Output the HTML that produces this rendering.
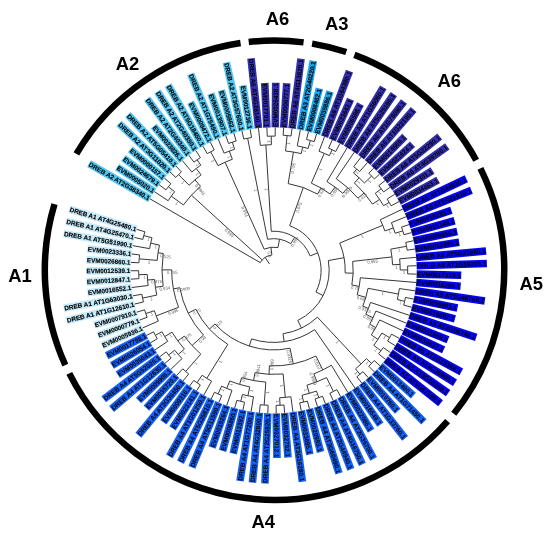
<!DOCTYPE html><html><head><meta charset="utf-8"><style>html,body{margin:0;padding:0;background:#fff;}svg{display:block}.b{stroke:#000;stroke-width:.12px}</style></head><body>
<svg width="550" height="536" viewBox="0 0 550 536">
<rect width="550" height="536" fill="#fff"/>
<path d="M76.38,153.96A229.7,229.7 0 0 1 240.55,43.02" fill="none" stroke="#000" stroke-width="6.5"/>
<path d="M248.70,41.95A229.7,229.7 0 0 1 303.57,42.35" fill="none" stroke="#000" stroke-width="6.5"/>
<path d="M312.10,43.60A229.7,229.7 0 0 1 346.24,51.99" fill="none" stroke="#000" stroke-width="6.5"/>
<path d="M354.38,54.84A229.7,229.7 0 0 1 476.17,160.24" fill="none" stroke="#000" stroke-width="6.5"/>
<path d="M480.42,168.43A229.7,229.7 0 0 1 453.76,413.82" fill="none" stroke="#000" stroke-width="6.5"/>
<path d="M447.59,421.20A229.7,229.7 0 0 1 69.29,373.41" fill="none" stroke="#000" stroke-width="6.5"/>
<path d="M65.32,365.09A229.7,229.7 0 0 1 54.49,204.19" fill="none" stroke="#000" stroke-width="6.5"/>
<g font-family="Liberation Sans, Arial, sans-serif" font-weight="bold" font-size="18.4" fill="#000">
<text x="265.7" y="24.8">A6</text>
<text x="325.0" y="30.0">A3</text>
<text x="115.7" y="69.7">A2</text>
<text x="437.4" y="86.5">A6</text>
<text x="519.5" y="290.2">A5</text>
<text x="8.3" y="281.6">A1</text>
<text x="251.5" y="527.6">A4</text>
</g>
<g font-family="Liberation Sans, Arial, sans-serif" font-weight="bold" font-size="6.3" fill="#000">
<g transform="translate(273.7,270.4) rotate(390.050)"><rect x="-213.30" y="-3.8" width="70.30" height="7.6" fill="#52c5f2"/><text class="b" x="-212.80" y="2.3" textLength="69.30" lengthAdjust="spacingAndGlyphs">DREB A2 AT2G38340.1</text></g>
<g transform="translate(273.7,270.4) rotate(393.415)"><rect x="-187.60" y="-3.8" width="44.60" height="7.6" fill="#52c5f2"/><text class="b" x="-187.10" y="2.3" textLength="43.60" lengthAdjust="spacingAndGlyphs">EVM0005020.1</text></g>
<g transform="translate(273.7,270.4) rotate(396.781)"><rect x="-187.60" y="-3.8" width="44.60" height="7.6" fill="#52c5f2"/><text class="b" x="-187.10" y="2.3" textLength="43.60" lengthAdjust="spacingAndGlyphs">EVM0024679.1</text></g>
<g transform="translate(273.7,270.4) rotate(400.146)"><rect x="-187.60" y="-3.8" width="44.60" height="7.6" fill="#52c5f2"/><text class="b" x="-187.10" y="2.3" textLength="43.60" lengthAdjust="spacingAndGlyphs">EVM0000157.1</text></g>
<g transform="translate(273.7,270.4) rotate(403.512)"><rect x="-213.30" y="-3.8" width="70.30" height="7.6" fill="#52c5f2"/><text class="b" x="-212.80" y="2.3" textLength="69.30" lengthAdjust="spacingAndGlyphs">DREB A2 AT3G11020.1</text></g>
<g transform="translate(273.7,270.4) rotate(406.877)"><rect x="-213.30" y="-3.8" width="70.30" height="7.6" fill="#52c5f2"/><text class="b" x="-212.80" y="2.3" textLength="69.30" lengthAdjust="spacingAndGlyphs">DREB A2 AT5G05410.1</text></g>
<g transform="translate(273.7,270.4) rotate(410.242)"><rect x="-187.60" y="-3.8" width="44.60" height="7.6" fill="#52c5f2"/><text class="b" x="-187.10" y="2.3" textLength="43.60" lengthAdjust="spacingAndGlyphs">EVM0023826.1</text></g>
<g transform="translate(273.7,270.4) rotate(413.608)"><rect x="-213.30" y="-3.8" width="70.30" height="7.6" fill="#52c5f2"/><text class="b" x="-212.80" y="2.3" textLength="69.30" lengthAdjust="spacingAndGlyphs">DREB A2 AT2G40340.1</text></g>
<g transform="translate(273.7,270.4) rotate(416.973)"><rect x="-213.30" y="-3.8" width="70.30" height="7.6" fill="#52c5f2"/><text class="b" x="-212.80" y="2.3" textLength="69.30" lengthAdjust="spacingAndGlyphs">DREB A2 AT2G40350.1</text></g>
<g transform="translate(273.7,270.4) rotate(420.338)"><rect x="-213.30" y="-3.8" width="70.30" height="7.6" fill="#52c5f2"/><text class="b" x="-212.80" y="2.3" textLength="69.30" lengthAdjust="spacingAndGlyphs">DREB A2 AT5G18450.1</text></g>
<g transform="translate(273.7,270.4) rotate(423.704)"><rect x="-187.60" y="-3.8" width="44.60" height="7.6" fill="#52c5f2"/><text class="b" x="-187.10" y="2.3" textLength="43.60" lengthAdjust="spacingAndGlyphs">EVM0009472.1</text></g>
<g transform="translate(273.7,270.4) rotate(427.069)"><rect x="-213.30" y="-3.8" width="70.30" height="7.6" fill="#52c5f2"/><text class="b" x="-212.80" y="2.3" textLength="69.30" lengthAdjust="spacingAndGlyphs">DREB A2 AT1G75490.1</text></g>
<g transform="translate(273.7,270.4) rotate(430.435)"><rect x="-187.60" y="-3.8" width="44.60" height="7.6" fill="#52c5f2"/><text class="b" x="-187.10" y="2.3" textLength="43.60" lengthAdjust="spacingAndGlyphs">EVM0013907.1</text></g>
<g transform="translate(273.7,270.4) rotate(433.800)"><rect x="-187.60" y="-3.8" width="44.60" height="7.6" fill="#52c5f2"/><text class="b" x="-187.10" y="2.3" textLength="43.60" lengthAdjust="spacingAndGlyphs">EVM0005962.1</text></g>
<g transform="translate(273.7,270.4) rotate(437.165)"><rect x="-213.30" y="-3.8" width="70.30" height="7.6" fill="#52c5f2"/><text class="b" x="-212.80" y="2.3" textLength="69.30" lengthAdjust="spacingAndGlyphs">DREB A2 AT3G57600.1</text></g>
<g transform="translate(273.7,270.4) rotate(440.531)"><rect x="-187.60" y="-3.8" width="44.60" height="7.6" fill="#52c5f2"/><text class="b" x="-187.10" y="2.3" textLength="43.60" lengthAdjust="spacingAndGlyphs">EVM0012736.1</text></g>
<g transform="translate(273.7,270.4) rotate(443.896)"><rect x="-213.30" y="-3.8" width="70.30" height="7.6" fill="#3330b0"/><text x="-212.80" y="2.3" textLength="69.30" lengthAdjust="spacingAndGlyphs">DREB A6 AT4G28140.1</text></g>
<g transform="translate(273.7,270.4) rotate(447.262)"><rect x="-187.60" y="-3.8" width="44.60" height="7.6" fill="#3330b0"/><text x="-187.10" y="2.3" textLength="43.60" lengthAdjust="spacingAndGlyphs">EVM0017791.1</text></g>
<g transform="translate(273.7,270.4) rotate(270.627)"><rect x="143.0" y="-3.8" width="44.60" height="7.6" fill="#3330b0"/><text x="143.50" y="2.3" textLength="43.60" lengthAdjust="spacingAndGlyphs">EVM0026438.1</text></g>
<g transform="translate(273.7,270.4) rotate(273.992)"><rect x="143.0" y="-3.8" width="44.60" height="7.6" fill="#3330b0"/><text x="143.50" y="2.3" textLength="43.60" lengthAdjust="spacingAndGlyphs">EVM0006777.1</text></g>
<g transform="translate(273.7,270.4) rotate(277.358)"><rect x="143.0" y="-3.8" width="70.30" height="7.6" fill="#3330b0"/><text x="143.50" y="2.3" textLength="69.30" lengthAdjust="spacingAndGlyphs">DREB A6 AT4G13620.1</text></g>
<g transform="translate(273.7,270.4) rotate(280.723)"><rect x="143.0" y="-3.8" width="70.30" height="7.6" fill="#19a6f2"/><text class="b" x="143.50" y="2.3" textLength="69.30" lengthAdjust="spacingAndGlyphs">DREB A3 AT2G40220.1</text></g>
<g transform="translate(273.7,270.4) rotate(284.088)"><rect x="143.0" y="-3.8" width="44.60" height="7.6" fill="#19a6f2"/><text class="b" x="143.50" y="2.3" textLength="43.60" lengthAdjust="spacingAndGlyphs">EVM0008462.1</text></g>
<g transform="translate(273.7,270.4) rotate(287.454)"><rect x="143.0" y="-3.8" width="44.60" height="7.6" fill="#19a6f2"/><text class="b" x="143.50" y="2.3" textLength="43.60" lengthAdjust="spacingAndGlyphs">EVM0035886.1</text></g>
<g transform="translate(273.7,270.4) rotate(290.819)"><rect x="143.0" y="-3.8" width="70.30" height="7.6" fill="#3330b0"/><text x="143.50" y="2.3" textLength="69.30" lengthAdjust="spacingAndGlyphs">DREB A6 AT1G64380.1</text></g>
<g transform="translate(273.7,270.4) rotate(294.185)"><rect x="143.0" y="-3.8" width="44.60" height="7.6" fill="#3330b0"/><text x="143.50" y="2.3" textLength="43.60" lengthAdjust="spacingAndGlyphs">EVM0023643.1</text></g>
<g transform="translate(273.7,270.4) rotate(297.550)"><rect x="143.0" y="-3.8" width="44.60" height="7.6" fill="#3330b0"/><text x="143.50" y="2.3" textLength="43.60" lengthAdjust="spacingAndGlyphs">EVM0006598.1</text></g>
<g transform="translate(273.7,270.4) rotate(300.915)"><rect x="143.0" y="-3.8" width="70.30" height="7.6" fill="#3330b0"/><text x="143.50" y="2.3" textLength="69.30" lengthAdjust="spacingAndGlyphs">DREB A6 AT1G36060.1</text></g>
<g transform="translate(273.7,270.4) rotate(304.281)"><rect x="143.0" y="-3.8" width="70.30" height="7.6" fill="#3330b0"/><text x="143.50" y="2.3" textLength="69.30" lengthAdjust="spacingAndGlyphs">DREB A6 AT5G25190.1</text></g>
<g transform="translate(273.7,270.4) rotate(307.646)"><rect x="143.0" y="-3.8" width="70.30" height="7.6" fill="#3330b0"/><text x="143.50" y="2.3" textLength="69.30" lengthAdjust="spacingAndGlyphs">DREB A6 AT1G78080.1</text></g>
<g transform="translate(273.7,270.4) rotate(311.012)"><rect x="143.0" y="-3.8" width="70.30" height="7.6" fill="#3330b0"/><text x="143.50" y="2.3" textLength="69.30" lengthAdjust="spacingAndGlyphs">DREB A6 AT1G22190.1</text></g>
<g transform="translate(273.7,270.4) rotate(314.377)"><rect x="143.0" y="-3.8" width="44.60" height="7.6" fill="#3330b0"/><text x="143.50" y="2.3" textLength="43.60" lengthAdjust="spacingAndGlyphs">EVM0014569.1</text></g>
<g transform="translate(273.7,270.4) rotate(317.742)"><rect x="143.0" y="-3.8" width="44.60" height="7.6" fill="#3330b0"/><text x="143.50" y="2.3" textLength="43.60" lengthAdjust="spacingAndGlyphs">EVM0021624.1</text></g>
<g transform="translate(273.7,270.4) rotate(321.108)"><rect x="143.0" y="-3.8" width="70.30" height="7.6" fill="#3330b0"/><text x="143.50" y="2.3" textLength="69.30" lengthAdjust="spacingAndGlyphs">DREB A6 AT5G22290.1</text></g>
<g transform="translate(273.7,270.4) rotate(324.473)"><rect x="143.0" y="-3.8" width="70.30" height="7.6" fill="#3330b0"/><text x="143.50" y="2.3" textLength="69.30" lengthAdjust="spacingAndGlyphs">DREB A6 AT4G39780.1</text></g>
<g transform="translate(273.7,270.4) rotate(327.838)"><rect x="143.0" y="-3.8" width="44.60" height="7.6" fill="#3330b0"/><text x="143.50" y="2.3" textLength="43.60" lengthAdjust="spacingAndGlyphs">EVM0029301.1</text></g>
<g transform="translate(273.7,270.4) rotate(331.204)"><rect x="143.0" y="-3.8" width="44.60" height="7.6" fill="#3330b0"/><text x="143.50" y="2.3" textLength="43.60" lengthAdjust="spacingAndGlyphs">EVM0034463.1</text></g>
<g transform="translate(273.7,270.4) rotate(334.569)"><rect x="143.0" y="-3.8" width="70.30" height="7.6" fill="#0505f2"/><text x="143.50" y="2.3" textLength="69.30" lengthAdjust="spacingAndGlyphs">DREB A5 AT1G44830.1</text></g>
<g transform="translate(273.7,270.4) rotate(337.935)"><rect x="143.0" y="-3.8" width="70.30" height="7.6" fill="#0505f2"/><text x="143.50" y="2.3" textLength="69.30" lengthAdjust="spacingAndGlyphs">DREB A5 AT1G21910.1</text></g>
<g transform="translate(273.7,270.4) rotate(341.300)"><rect x="143.0" y="-3.8" width="44.60" height="7.6" fill="#0505f2"/><text x="143.50" y="2.3" textLength="43.60" lengthAdjust="spacingAndGlyphs">EVM0010283.1</text></g>
<g transform="translate(273.7,270.4) rotate(344.665)"><rect x="143.0" y="-3.8" width="44.60" height="7.6" fill="#0505f2"/><text x="143.50" y="2.3" textLength="43.60" lengthAdjust="spacingAndGlyphs">EVM0015149.1</text></g>
<g transform="translate(273.7,270.4) rotate(348.031)"><rect x="143.0" y="-3.8" width="44.60" height="7.6" fill="#0505f2"/><text x="143.50" y="2.3" textLength="43.60" lengthAdjust="spacingAndGlyphs">EVM0009956.1</text></g>
<g transform="translate(273.7,270.4) rotate(351.396)"><rect x="143.0" y="-3.8" width="44.60" height="7.6" fill="#0505f2"/><text x="143.50" y="2.3" textLength="43.60" lengthAdjust="spacingAndGlyphs">EVM0012385.1</text></g>
<g transform="translate(273.7,270.4) rotate(354.762)"><rect x="143.0" y="-3.8" width="70.30" height="7.6" fill="#0505f2"/><text x="143.50" y="2.3" textLength="69.30" lengthAdjust="spacingAndGlyphs">DREB A5 AT5G21960.1</text></g>
<g transform="translate(273.7,270.4) rotate(358.127)"><rect x="143.0" y="-3.8" width="70.30" height="7.6" fill="#0505f2"/><text x="143.50" y="2.3" textLength="69.30" lengthAdjust="spacingAndGlyphs">DREB A5 AT1G19210.1</text></g>
<g transform="translate(273.7,270.4) rotate(1.492)"><rect x="143.0" y="-3.8" width="44.60" height="7.6" fill="#0505f2"/><text x="143.50" y="2.3" textLength="43.60" lengthAdjust="spacingAndGlyphs">EVM0017315.1</text></g>
<g transform="translate(273.7,270.4) rotate(4.858)"><rect x="143.0" y="-3.8" width="44.60" height="7.6" fill="#0505f2"/><text x="143.50" y="2.3" textLength="43.60" lengthAdjust="spacingAndGlyphs">EVM0016285.1</text></g>
<g transform="translate(273.7,270.4) rotate(8.223)"><rect x="143.0" y="-3.8" width="70.30" height="7.6" fill="#0505f2"/><text x="143.50" y="2.3" textLength="69.30" lengthAdjust="spacingAndGlyphs">DREB A5 AT1G46768.1</text></g>
<g transform="translate(273.7,270.4) rotate(11.588)"><rect x="143.0" y="-3.8" width="44.60" height="7.6" fill="#0505f2"/><text x="143.50" y="2.3" textLength="43.60" lengthAdjust="spacingAndGlyphs">EVM0019801.1</text></g>
<g transform="translate(273.7,270.4) rotate(14.954)"><rect x="143.0" y="-3.8" width="44.60" height="7.6" fill="#0505f2"/><text x="143.50" y="2.3" textLength="43.60" lengthAdjust="spacingAndGlyphs">EVM0016097.1</text></g>
<g transform="translate(273.7,270.4) rotate(18.319)"><rect x="143.0" y="-3.8" width="70.30" height="7.6" fill="#0505f2"/><text x="143.50" y="2.3" textLength="69.30" lengthAdjust="spacingAndGlyphs">DREB A5 AT4G06746.1</text></g>
<g transform="translate(273.7,270.4) rotate(21.685)"><rect x="143.0" y="-3.8" width="44.60" height="7.6" fill="#0505f2"/><text x="143.50" y="2.3" textLength="43.60" lengthAdjust="spacingAndGlyphs">EVM0011566.1</text></g>
<g transform="translate(273.7,270.4) rotate(25.050)"><rect x="143.0" y="-3.8" width="44.60" height="7.6" fill="#0505f2"/><text x="143.50" y="2.3" textLength="43.60" lengthAdjust="spacingAndGlyphs">EVM0034637.1</text></g>
<g transform="translate(273.7,270.4) rotate(28.415)"><rect x="143.0" y="-3.8" width="70.30" height="7.6" fill="#0505f2"/><text x="143.50" y="2.3" textLength="69.30" lengthAdjust="spacingAndGlyphs">DREB A5 AT2G23340.1</text></g>
<g transform="translate(273.7,270.4) rotate(31.781)"><rect x="143.0" y="-3.8" width="70.30" height="7.6" fill="#0505f2"/><text x="143.50" y="2.3" textLength="69.30" lengthAdjust="spacingAndGlyphs">DREB A5 AT4G36900.1</text></g>
<g transform="translate(273.7,270.4) rotate(35.146)"><rect x="143.0" y="-3.8" width="70.30" height="7.6" fill="#0505f2"/><text x="143.50" y="2.3" textLength="69.30" lengthAdjust="spacingAndGlyphs">DREB A5 AT3G50260.1</text></g>
<g transform="translate(273.7,270.4) rotate(38.512)"><rect x="143.0" y="-3.8" width="70.30" height="7.6" fill="#0505f2"/><text x="143.50" y="2.3" textLength="69.30" lengthAdjust="spacingAndGlyphs">DREB A5 AT5G67190.1</text></g>
<g transform="translate(273.7,270.4) rotate(41.877)"><rect x="143.0" y="-3.8" width="44.60" height="7.6" fill="#1460f5"/><text x="143.50" y="2.3" textLength="43.60" lengthAdjust="spacingAndGlyphs">EVM0013480.1</text></g>
<g transform="translate(273.7,270.4) rotate(45.242)"><rect x="143.0" y="-3.8" width="70.30" height="7.6" fill="#1460f5"/><text x="143.50" y="2.3" textLength="69.30" lengthAdjust="spacingAndGlyphs">DREB A4 AT1G71450.1</text></g>
<g transform="translate(273.7,270.4) rotate(48.608)"><rect x="143.0" y="-3.8" width="44.60" height="7.6" fill="#1460f5"/><text x="143.50" y="2.3" textLength="43.60" lengthAdjust="spacingAndGlyphs">EVM0010760.1</text></g>
<g transform="translate(273.7,270.4) rotate(51.973)"><rect x="143.0" y="-3.8" width="70.30" height="7.6" fill="#1460f5"/><text x="143.50" y="2.3" textLength="69.30" lengthAdjust="spacingAndGlyphs">DREB A4 AT1G33760.1</text></g>
<g transform="translate(273.7,270.4) rotate(55.338)"><rect x="143.0" y="-3.8" width="44.60" height="7.6" fill="#1460f5"/><text x="143.50" y="2.3" textLength="43.60" lengthAdjust="spacingAndGlyphs">EVM0016549.1</text></g>
<g transform="translate(273.7,270.4) rotate(58.704)"><rect x="143.0" y="-3.8" width="44.60" height="7.6" fill="#1460f5"/><text x="143.50" y="2.3" textLength="43.60" lengthAdjust="spacingAndGlyphs">EVM0022085.1</text></g>
<g transform="translate(273.7,270.4) rotate(62.069)"><rect x="143.0" y="-3.8" width="70.30" height="7.6" fill="#1460f5"/><text x="143.50" y="2.3" textLength="69.30" lengthAdjust="spacingAndGlyphs">DREB A4 AT2G35700.1</text></g>
<g transform="translate(273.7,270.4) rotate(65.435)"><rect x="143.0" y="-3.8" width="70.30" height="7.6" fill="#1460f5"/><text x="143.50" y="2.3" textLength="69.30" lengthAdjust="spacingAndGlyphs">DREB A4 AT4G16750.1</text></g>
<g transform="translate(273.7,270.4) rotate(68.800)"><rect x="143.0" y="-3.8" width="70.30" height="7.6" fill="#1460f5"/><text x="143.50" y="2.3" textLength="69.30" lengthAdjust="spacingAndGlyphs">DREB A4 AT2G44940.1</text></g>
<g transform="translate(273.7,270.4) rotate(72.165)"><rect x="143.0" y="-3.8" width="70.30" height="7.6" fill="#1460f5"/><text x="143.50" y="2.3" textLength="69.30" lengthAdjust="spacingAndGlyphs">DREB A4 AT3G60490.1</text></g>
<g transform="translate(273.7,270.4) rotate(75.531)"><rect x="143.0" y="-3.8" width="44.60" height="7.6" fill="#1460f5"/><text x="143.50" y="2.3" textLength="43.60" lengthAdjust="spacingAndGlyphs">EVM0020993.1</text></g>
<g transform="translate(273.7,270.4) rotate(78.896)"><rect x="143.0" y="-3.8" width="44.60" height="7.6" fill="#1460f5"/><text x="143.50" y="2.3" textLength="43.60" lengthAdjust="spacingAndGlyphs">EVM0033695.1</text></g>
<g transform="translate(273.7,270.4) rotate(82.262)"><rect x="143.0" y="-3.8" width="70.30" height="7.6" fill="#1460f5"/><text x="143.50" y="2.3" textLength="69.30" lengthAdjust="spacingAndGlyphs">DREB A4 AT3G16280.1</text></g>
<g transform="translate(273.7,270.4) rotate(85.627)"><rect x="143.0" y="-3.8" width="44.60" height="7.6" fill="#1460f5"/><text x="143.50" y="2.3" textLength="43.60" lengthAdjust="spacingAndGlyphs">EVM0032792.1</text></g>
<g transform="translate(273.7,270.4) rotate(88.992)"><rect x="143.0" y="-3.8" width="44.60" height="7.6" fill="#1460f5"/><text x="143.50" y="2.3" textLength="43.60" lengthAdjust="spacingAndGlyphs">EVM0027012.1</text></g>
<g transform="translate(273.7,270.4) rotate(272.358)"><rect x="-213.30" y="-3.8" width="70.30" height="7.6" fill="#1460f5"/><text x="-212.80" y="2.3" textLength="69.30" lengthAdjust="spacingAndGlyphs">DREB A4 AT2G25820.1</text></g>
<g transform="translate(273.7,270.4) rotate(275.723)"><rect x="-213.30" y="-3.8" width="70.30" height="7.6" fill="#1460f5"/><text x="-212.80" y="2.3" textLength="69.30" lengthAdjust="spacingAndGlyphs">DREB A4 AT4G32800.1</text></g>
<g transform="translate(273.7,270.4) rotate(279.088)"><rect x="-213.30" y="-3.8" width="70.30" height="7.6" fill="#1460f5"/><text x="-212.80" y="2.3" textLength="69.30" lengthAdjust="spacingAndGlyphs">DREB A4 AT1G77200.1</text></g>
<g transform="translate(273.7,270.4) rotate(282.454)"><rect x="-187.60" y="-3.8" width="44.60" height="7.6" fill="#1460f5"/><text x="-187.10" y="2.3" textLength="43.60" lengthAdjust="spacingAndGlyphs">EVM0013392.1</text></g>
<g transform="translate(273.7,270.4) rotate(285.819)"><rect x="-187.60" y="-3.8" width="44.60" height="7.6" fill="#1460f5"/><text x="-187.10" y="2.3" textLength="43.60" lengthAdjust="spacingAndGlyphs">EVM0006860.1</text></g>
<g transform="translate(273.7,270.4) rotate(289.185)"><rect x="-187.60" y="-3.8" width="44.60" height="7.6" fill="#1460f5"/><text x="-187.10" y="2.3" textLength="43.60" lengthAdjust="spacingAndGlyphs">EVM0019264.1</text></g>
<g transform="translate(273.7,270.4) rotate(292.550)"><rect x="-213.30" y="-3.8" width="70.30" height="7.6" fill="#1460f5"/><text x="-212.80" y="2.3" textLength="69.30" lengthAdjust="spacingAndGlyphs">DREB A4 AT5G11590.1</text></g>
<g transform="translate(273.7,270.4) rotate(295.915)"><rect x="-213.30" y="-3.8" width="70.30" height="7.6" fill="#1460f5"/><text x="-212.80" y="2.3" textLength="69.30" lengthAdjust="spacingAndGlyphs">DREB A4 AT5G25810.1</text></g>
<g transform="translate(273.7,270.4) rotate(299.281)"><rect x="-213.30" y="-3.8" width="70.30" height="7.6" fill="#1460f5"/><text x="-212.80" y="2.3" textLength="69.30" lengthAdjust="spacingAndGlyphs">DREB A4 AT1G01250.1</text></g>
<g transform="translate(273.7,270.4) rotate(302.646)"><rect x="-187.60" y="-3.8" width="44.60" height="7.6" fill="#1460f5"/><text x="-187.10" y="2.3" textLength="43.60" lengthAdjust="spacingAndGlyphs">EVM0023141.1</text></g>
<g transform="translate(273.7,270.4) rotate(306.012)"><rect x="-187.60" y="-3.8" width="44.60" height="7.6" fill="#1460f5"/><text x="-187.10" y="2.3" textLength="43.60" lengthAdjust="spacingAndGlyphs">EVM0009316.1</text></g>
<g transform="translate(273.7,270.4) rotate(309.377)"><rect x="-213.30" y="-3.8" width="70.30" height="7.6" fill="#1460f5"/><text x="-212.80" y="2.3" textLength="69.30" lengthAdjust="spacingAndGlyphs">DREB A4 AT2G36450.1</text></g>
<g transform="translate(273.7,270.4) rotate(312.742)"><rect x="-187.60" y="-3.8" width="44.60" height="7.6" fill="#1460f5"/><text x="-187.10" y="2.3" textLength="43.60" lengthAdjust="spacingAndGlyphs">EVM0035720.1</text></g>
<g transform="translate(273.7,270.4) rotate(316.108)"><rect x="-187.60" y="-3.8" width="44.60" height="7.6" fill="#1460f5"/><text x="-187.10" y="2.3" textLength="43.60" lengthAdjust="spacingAndGlyphs">EVM0009906.1</text></g>
<g transform="translate(273.7,270.4) rotate(319.473)"><rect x="-213.30" y="-3.8" width="70.30" height="7.6" fill="#1460f5"/><text x="-212.80" y="2.3" textLength="69.30" lengthAdjust="spacingAndGlyphs">DREB A4 AT1G12630.1</text></g>
<g transform="translate(273.7,270.4) rotate(322.838)"><rect x="-213.30" y="-3.8" width="70.30" height="7.6" fill="#1460f5"/><text x="-212.80" y="2.3" textLength="69.30" lengthAdjust="spacingAndGlyphs">DREB A4 AT5G52020.1</text></g>
<g transform="translate(273.7,270.4) rotate(326.204)"><rect x="-187.60" y="-3.8" width="44.60" height="7.6" fill="#1460f5"/><text x="-187.10" y="2.3" textLength="43.60" lengthAdjust="spacingAndGlyphs">EVM0035043.1</text></g>
<g transform="translate(273.7,270.4) rotate(329.569)"><rect x="-187.60" y="-3.8" width="44.60" height="7.6" fill="#1460f5"/><text x="-187.10" y="2.3" textLength="43.60" lengthAdjust="spacingAndGlyphs">EVM0026054.1</text></g>
<g transform="translate(273.7,270.4) rotate(332.935)"><rect x="-187.60" y="-3.8" width="44.60" height="7.6" fill="#1460f5"/><text x="-187.10" y="2.3" textLength="43.60" lengthAdjust="spacingAndGlyphs">EVM0017798.1</text></g>
<g transform="translate(273.7,270.4) rotate(336.300)"><rect x="-187.60" y="-3.8" width="44.60" height="7.6" fill="#c6eafa"/><text class="b" x="-187.10" y="2.3" textLength="43.60" lengthAdjust="spacingAndGlyphs">EVM0005936.1</text></g>
<g transform="translate(273.7,270.4) rotate(339.665)"><rect x="-187.60" y="-3.8" width="44.60" height="7.6" fill="#c6eafa"/><text class="b" x="-187.10" y="2.3" textLength="43.60" lengthAdjust="spacingAndGlyphs">EVM0000779.1</text></g>
<g transform="translate(273.7,270.4) rotate(343.031)"><rect x="-187.60" y="-3.8" width="44.60" height="7.6" fill="#c6eafa"/><text class="b" x="-187.10" y="2.3" textLength="43.60" lengthAdjust="spacingAndGlyphs">EVM0007910.1</text></g>
<g transform="translate(273.7,270.4) rotate(346.396)"><rect x="-213.30" y="-3.8" width="70.30" height="7.6" fill="#c6eafa"/><text class="b" x="-212.80" y="2.3" textLength="69.30" lengthAdjust="spacingAndGlyphs">DREB A1 AT1G12610.1</text></g>
<g transform="translate(273.7,270.4) rotate(349.762)"><rect x="-213.30" y="-3.8" width="70.30" height="7.6" fill="#c6eafa"/><text class="b" x="-212.80" y="2.3" textLength="69.30" lengthAdjust="spacingAndGlyphs">DREB A1 AT1G63030.1</text></g>
<g transform="translate(273.7,270.4) rotate(353.127)"><rect x="-187.60" y="-3.8" width="44.60" height="7.6" fill="#c6eafa"/><text class="b" x="-187.10" y="2.3" textLength="43.60" lengthAdjust="spacingAndGlyphs">EVM0016552.1</text></g>
<g transform="translate(273.7,270.4) rotate(356.492)"><rect x="-187.60" y="-3.8" width="44.60" height="7.6" fill="#c6eafa"/><text class="b" x="-187.10" y="2.3" textLength="43.60" lengthAdjust="spacingAndGlyphs">EVM0012847.1</text></g>
<g transform="translate(273.7,270.4) rotate(359.858)"><rect x="-187.60" y="-3.8" width="44.60" height="7.6" fill="#c6eafa"/><text class="b" x="-187.10" y="2.3" textLength="43.60" lengthAdjust="spacingAndGlyphs">EVM0012539.1</text></g>
<g transform="translate(273.7,270.4) rotate(363.223)"><rect x="-187.60" y="-3.8" width="44.60" height="7.6" fill="#c6eafa"/><text class="b" x="-187.10" y="2.3" textLength="43.60" lengthAdjust="spacingAndGlyphs">EVM0026860.1</text></g>
<g transform="translate(273.7,270.4) rotate(366.588)"><rect x="-187.60" y="-3.8" width="44.60" height="7.6" fill="#c6eafa"/><text class="b" x="-187.10" y="2.3" textLength="43.60" lengthAdjust="spacingAndGlyphs">EVM0023336.1</text></g>
<g transform="translate(273.7,270.4) rotate(369.954)"><rect x="-213.30" y="-3.8" width="70.30" height="7.6" fill="#c6eafa"/><text class="b" x="-212.80" y="2.3" textLength="69.30" lengthAdjust="spacingAndGlyphs">DREB A1 AT5G51990.1</text></g>
<g transform="translate(273.7,270.4) rotate(373.319)"><rect x="-213.30" y="-3.8" width="70.30" height="7.6" fill="#c6eafa"/><text class="b" x="-212.80" y="2.3" textLength="69.30" lengthAdjust="spacingAndGlyphs">DREB A1 AT4G25470.1</text></g>
<g transform="translate(273.7,270.4) rotate(376.685)"><rect x="-213.30" y="-3.8" width="70.30" height="7.6" fill="#c6eafa"/><text class="b" x="-212.80" y="2.3" textLength="69.30" lengthAdjust="spacingAndGlyphs">DREB A1 AT4G25480.1</text></g>
</g>
<path d="M269.46,263.97L265.17,257.46M260.28,262.64A15.5,15.5 0 0 1 271.87,255.01M260.28,262.64L149.92,198.79M262.26,259.94L191.44,195.13M183.43,204.96A111.5,111.5 0 0 1 200.52,186.28M183.43,204.96L171.28,196.15M168.11,200.74A126.5,126.5 0 0 1 174.65,191.72M168.11,200.74L154.34,191.65M174.65,191.72L168.39,186.74M165.97,189.87A134.5,134.5 0 0 1 170.89,183.68M165.97,189.87L159.17,184.78M170.89,183.68L164.39,178.20M200.52,186.28L194.94,179.86M189.14,185.26A120,120 0 0 1 201.09,174.86M189.14,185.26L178.56,174.62M175.79,177.45A135,135 0 0 1 181.42,171.87M175.79,177.45L169.99,171.94M181.42,171.87L175.95,166.03M201.09,174.86L196.25,168.49M191.84,172.00A128,128 0 0 1 200.81,165.18M191.84,172.00L182.25,160.47M200.81,165.18L197.11,159.83M193.90,162.13A134.5,134.5 0 0 1 200.39,157.63M193.90,162.13L188.86,155.29M200.39,157.63L195.76,150.51M271.87,255.01L270.95,247.26M264.15,249.15A23.3,23.3 0 0 1 277.99,247.50M264.15,249.15L225.10,162.22M218.06,165.66A118.6,118.6 0 0 1 232.35,159.24M218.06,165.66L210.69,151.80M207.24,153.70A134.3,134.3 0 0 1 214.20,150.00M207.24,153.70L202.93,146.14M214.20,150.00L210.35,142.20M232.35,159.24L229.31,151.09M224.10,153.16A127.3,127.3 0 0 1 234.61,149.25M224.10,153.16L217.98,138.70M234.61,149.25L232.34,142.21M228.59,143.48A134.7,134.7 0 0 1 236.12,141.05M228.59,143.48L225.81,135.66M236.12,141.05L233.80,133.08M277.99,247.50L279.54,239.24M267.57,239.30A31.7,31.7 0 0 1 290.68,243.63M267.57,239.30L247.65,138.24M243.78,139.07A134.7,134.7 0 0 1 251.54,137.54M243.78,139.07L241.93,130.97M251.54,137.54L250.17,129.35M290.68,243.63L294.69,237.30M271.25,231.28A39.2,39.2 0 0 1 310.13,255.93M271.25,231.28L265.85,144.95M260.33,145.41A125.7,125.7 0 0 1 271.38,144.72M260.33,145.41L258.49,128.21M271.38,144.72L271.23,136.12M267.28,136.25A134.3,134.3 0 0 1 275.17,136.11M267.28,136.25L266.87,127.56M275.17,136.11L275.26,127.41M310.13,255.93L317.75,252.91M289.65,225.76A47.4,47.4 0 0 1 315.92,291.94M289.65,225.76L303.31,187.53M288.17,183.60A88,88 0 0 1 317.52,194.09M288.17,183.60L293.43,152.03M285.57,150.99A120,120 0 0 1 301.20,153.59M285.57,150.99L287.10,135.56M283.13,135.23A135.5,135.5 0 0 1 291.05,136.02M283.13,135.23L283.66,127.75M291.05,136.02L292.01,128.58M301.20,153.59L302.73,147.07M297.27,145.91A126.7,126.7 0 0 1 308.14,148.47M297.27,145.91L300.31,129.90M308.14,148.47L310.39,140.48M306.56,139.46A135,135 0 0 1 314.19,141.62M306.56,139.46L308.51,131.70M314.19,141.62L316.59,133.98M317.52,194.09L321.00,188.01M311.34,183.18A95,95 0 0 1 330.05,193.92M311.34,183.18L324.22,153.34M319.02,151.22A127.5,127.5 0 0 1 329.33,155.67M319.02,151.22L324.53,136.74M329.33,155.67L332.16,149.83M328.60,148.16A134,134 0 0 1 335.68,151.59M328.60,148.16L332.28,139.95M335.68,151.59L339.84,143.62M330.05,193.92L335.10,187.08M326.88,181.60A103.5,103.5 0 0 1 342.76,193.31M326.88,181.60L347.17,147.72M342.76,193.31L347.76,187.72M336.22,178.68A111,111 0 0 1 358.01,198.20M336.22,178.68L354.24,152.24M358.01,198.20L364.09,193.00M354.39,182.94A119,119 0 0 1 372.54,204.12M354.39,182.94L359.14,177.79M353.56,172.94A126,126 0 0 1 364.43,182.97M353.56,172.94L356.72,169.07M353.71,166.67A131,131 0 0 1 359.66,171.55M353.71,166.67L361.04,157.17M359.66,171.55L367.54,162.50M364.43,182.97L371.63,176.03M368.82,173.19A136,136 0 0 1 374.36,178.94M368.82,173.19L373.71,168.19M374.36,178.94L379.54,174.24M372.54,204.12L379.60,199.39M375.24,193.30A127.5,127.5 0 0 1 383.58,205.73M375.24,193.30L381.22,188.76M378.77,185.64A135,135 0 0 1 383.57,191.95M378.77,185.64L385.00,180.62M383.57,191.95L390.08,187.30M383.58,205.73L389.18,202.43M387.14,199.07A134,134 0 0 1 391.13,205.85M387.14,199.07L394.76,194.28M391.13,205.85L399.02,201.52M315.92,291.94L323.14,295.62M328.32,260.55A55.5,55.5 0 0 1 297.79,320.40M328.32,260.55L344.07,257.71M339.76,243.05A71.5,71.5 0 0 1 345.15,272.95M339.76,243.05L382.73,225.27M380.27,219.73A118,118 0 0 1 384.90,230.93M380.27,219.73L402.84,208.99M384.90,230.93L393.38,227.92M391.40,222.69A127,127 0 0 1 395.14,233.23M391.40,222.69L406.23,216.68M395.14,233.23L402.79,230.89M401.57,227.12A135,135 0 0 1 403.89,234.70M401.57,227.12L409.15,224.55M403.89,234.70L411.61,232.58M345.15,272.95L353.15,273.24M352.69,261.40A79.5,79.5 0 0 1 351.85,285.01M352.69,261.40L391.93,256.93M390.79,249.15A119,119 0 0 1 392.57,264.76M390.79,249.15L406.53,246.29M405.76,242.40A135,135 0 0 1 407.18,250.20M405.76,242.40L413.59,240.74M407.18,250.20L415.09,249.01M392.57,264.76L400.06,264.41M399.67,258.85A126.5,126.5 0 0 1 400.20,269.98M399.67,258.85L416.10,257.34M400.20,269.98L407.70,269.95M407.63,266.02A134,134 0 0 1 407.65,273.89M407.63,266.02L416.62,265.73M407.65,273.89L416.65,274.12M351.85,285.01L359.22,286.39M360.39,277.77A87,87 0 0 1 357.19,294.85M360.39,277.77L416.19,282.51M357.19,294.85L365.83,297.38M368.02,288.30A96,96 0 0 1 362.78,306.20M368.02,288.30L398.47,294.08M399.39,288.56A127,127 0 0 1 397.31,299.55M399.39,288.56L415.23,290.85M397.31,299.55L404.61,301.28M405.46,297.42A134.5,134.5 0 0 1 403.65,305.11M405.46,297.42L413.79,299.13M403.65,305.11L411.86,307.30M362.78,306.20L368.34,308.44M370.53,302.46A102,102 0 0 1 365.79,314.27M370.53,302.46L409.45,315.35M365.79,314.27L373.01,317.71M375.92,311.04A110,110 0 0 1 369.67,324.16M375.92,311.04L406.58,323.24M369.67,324.16L375.78,327.58M379.69,319.94A117,117 0 0 1 371.31,334.91M379.69,319.94L403.25,330.95M371.31,334.91L377.98,339.33M381.85,333.09A125,125 0 0 1 373.75,345.33M381.85,333.09L389.63,337.60M391.56,334.17A134,134 0 0 1 387.61,340.97M391.56,334.17L399.47,338.45M387.61,340.97L395.26,345.71M373.75,345.33L380.96,350.72M383.27,347.54A134,134 0 0 1 378.55,353.84M383.27,347.54L390.63,352.72M378.55,353.84L385.60,359.44M297.79,320.40L301.48,328.05M317.41,317.15A64,64 0 0 1 283.03,333.72M317.41,317.15L361.12,363.90M366.46,358.61A128,128 0 0 1 355.48,368.87M366.46,358.61L371.53,363.43M374.22,360.52A135,135 0 0 1 368.75,366.26M374.22,360.52L380.18,365.86M368.75,366.26L374.39,371.94M355.48,368.87L359.95,374.25M362.96,371.68A135,135 0 0 1 356.86,376.74M362.96,371.68L368.25,377.68M356.86,376.74L361.79,383.04M283.03,333.72L284.20,341.63M314.65,329.62A72,72 0 0 1 251.57,338.92M314.65,329.62L355.03,388.02M251.57,338.92L249.27,346.05M290.01,348.21A79.5,79.5 0 0 1 214.96,323.97M290.01,348.21L293.29,363.87M315.94,356.05A95.5,95.5 0 0 1 269.42,365.80M315.94,356.05L322.79,369.95M331.36,365.25A111,111 0 0 1 313.84,373.89M331.36,365.25L347.98,392.59M313.84,373.89L316.91,381.81M326.55,377.58A119.5,119.5 0 0 1 306.94,385.18M326.55,377.58L333.40,391.48M336.93,389.67A135,135 0 0 1 329.82,393.18M336.93,389.67L340.68,396.74M329.82,393.18L333.15,400.46M306.94,385.18L309.31,393.35M316.46,391.05A128,128 0 0 1 302.03,395.23M316.46,391.05L318.80,397.64M322.52,396.26A135,135 0 0 1 315.05,398.91M322.52,396.26L325.41,403.72M315.05,398.91L317.50,406.53M302.03,395.23L303.58,402.05M307.43,401.12A135,135 0 0 1 299.70,402.87M307.43,401.12L309.43,408.86M299.70,402.87L301.24,410.72M269.42,365.80L269.04,374.30M283.15,373.97A104,104 0 0 1 255.01,372.71M283.15,373.97L285.29,397.37M290.87,396.74A127.5,127.5 0 0 1 279.68,397.76M290.87,396.74L292.96,412.10M279.68,397.76L280.04,405.25M283.99,405.01A135,135 0 0 1 276.07,405.38M283.99,405.01L284.60,412.98M276.07,405.38L276.21,413.38M255.01,372.71L253.58,380.58M265.81,382.12A112,112 0 0 1 241.59,377.70M265.81,382.12L264.19,405.06M268.15,405.29A135,135 0 0 1 260.24,404.73M268.15,405.29L267.82,413.28M260.24,404.73L259.44,412.69M241.59,377.70L239.58,384.40M249.75,386.96A119,119 0 0 1 229.68,380.96M249.75,386.96L247.93,395.78M253.48,396.79A128,128 0 0 1 242.44,394.52M253.48,396.79L251.11,411.60M242.44,394.52L240.73,401.31M244.59,402.22A135,135 0 0 1 236.90,400.29M244.59,402.22L242.86,410.04M236.90,400.29L234.72,407.98M229.68,380.96L226.72,388.39M231.97,390.35A127,127 0 0 1 221.57,386.21M231.97,390.35L226.71,405.46M221.57,386.21L218.08,393.96M221.74,395.54A135.5,135.5 0 0 1 214.48,392.27M221.74,395.54L218.86,402.47M214.48,392.27L211.20,399.02M214.96,323.97L209.42,329.03M227.85,344.34A87,87 0 0 1 195.87,309.27M227.85,344.34L206.77,378.33M211.59,381.17A127,127 0 0 1 202.08,375.28M211.59,381.17L203.76,395.13M202.08,375.28L197.00,382.71M200.33,384.91A136,136 0 0 1 193.74,380.41M200.33,384.91L196.56,390.81M193.74,380.41L189.62,386.07M195.87,309.27L188.26,313.07M203.44,335.08A95.5,95.5 0 0 1 179.78,287.72M203.44,335.08L192.03,345.58M200.79,354.10A111,111 0 0 1 184.27,336.14M200.79,354.10L185.68,371.44M188.69,373.98A134,134 0 0 1 182.75,368.81M188.69,373.98L182.98,380.94M182.75,368.81L176.65,375.42M184.27,336.14L177.82,340.88M184.39,349.05A119,119 0 0 1 171.99,332.17M184.39,349.05L178.24,354.47M182.03,358.59A127.2,127.2 0 0 1 174.63,350.18M182.03,358.59L170.65,369.54M174.63,350.18L168.63,355.01M171.16,358.06A134.9,134.9 0 0 1 166.19,351.89M171.16,358.06L165.01,363.32M166.19,351.89L159.74,356.78M171.99,332.17L164.72,336.59M167.74,341.32A127.5,127.5 0 0 1 161.92,331.72M167.74,341.32L154.86,349.94M161.92,331.72L155.34,335.33M157.30,338.78A135,135 0 0 1 153.48,331.83M157.30,338.78L150.40,342.83M153.48,331.83L146.36,335.47M179.78,287.72L173.39,288.90M178.59,307.25A102,102 0 0 1 171.70,269.90M178.59,307.25L156.21,315.92M158.33,321.05A126,126 0 0 1 154.32,310.70M158.33,321.05L142.76,327.88M154.32,310.70L145.79,313.58M147.11,317.31A135,135 0 0 1 144.58,309.80M147.11,317.31L139.61,320.09M144.58,309.80L136.93,312.14M171.70,269.90L162.00,269.86M163.12,286.21A111.7,111.7 0 0 1 163.28,253.52M163.12,286.21L155.40,287.31M156.78,295.08A119.5,119.5 0 0 1 154.54,279.46M156.78,295.08L142.59,298.08M143.46,301.92A134,134 0 0 1 141.83,294.22M143.46,301.92L134.71,304.03M141.83,294.22L132.98,295.82M154.54,279.46L147.56,279.99M148.11,285.54A126.5,126.5 0 0 1 147.26,274.43M148.11,285.54L131.73,287.51M147.26,274.43L138.77,274.70M138.95,278.66A135,135 0 0 1 138.70,270.74M138.95,278.66L130.97,279.15M138.70,270.74L130.70,270.76M163.28,253.52L158.04,252.72M157.13,260.39A117,117 0 0 1 159.46,245.12M157.13,260.39L139.19,258.86M138.91,262.81A135,135 0 0 1 139.59,254.91M138.91,262.81L130.93,262.36M139.59,254.91L131.64,253.99M159.46,245.12L150.68,243.18M149.60,248.62A126,126 0 0 1 151.99,237.78M149.60,248.62L132.85,245.68M151.99,237.78L143.78,235.58M142.82,239.41A134.5,134.5 0 0 1 144.86,231.78M142.82,239.41L134.55,237.46M144.86,231.78L136.72,229.34" fill="none" stroke="#383838" stroke-width="1.0"/>
<g font-family="Liberation Sans, Arial, sans-serif" font-size="4.3" fill="#5c5c5c"><text transform="translate(273.7,270.4) rotate(402.46)" x="-63.50" y="3.9">0.999</text><text transform="translate(273.7,270.4) rotate(395.94)" x="-119.00" y="3.9">1</text><text transform="translate(273.7,270.4) rotate(398.46)" x="-130.50" y="3.9">1</text><text transform="translate(273.7,270.4) rotate(408.98)" x="-115.75" y="3.9">0.9941</text><text transform="translate(273.7,270.4) rotate(405.19)" x="-127.50" y="3.9">1</text><text transform="translate(273.7,270.4) rotate(412.77)" x="-124.00" y="3.9">1</text><text transform="translate(273.7,270.4) rotate(415.29)" x="-131.25" y="3.9">1</text><text transform="translate(273.7,270.4) rotate(443.21)" x="-19.40" y="3.9">0.9</text><text transform="translate(273.7,270.4) rotate(425.81)" x="-70.95" y="3.9">0.954</text><text transform="translate(273.7,270.4) rotate(422.02)" x="-126.45" y="3.9">1</text><text transform="translate(273.7,270.4) rotate(429.59)" x="-122.95" y="3.9">1</text><text transform="translate(273.7,270.4) rotate(432.12)" x="-131.00" y="3.9">1</text><text transform="translate(273.7,270.4) rotate(438.85)" x="-83.20" y="3.9">1</text><text transform="translate(273.7,270.4) rotate(302.38)" x="35.45" y="3.9" text-anchor="middle">0.999</text><text transform="translate(273.7,270.4) rotate(446.42)" x="-82.45" y="3.9">1</text><text transform="translate(273.7,270.4) rotate(448.94)" x="-130.00" y="3.9">1</text><text transform="translate(273.7,270.4) rotate(289.66)" x="67.70" y="3.9" text-anchor="middle">0.875</text><text transform="translate(273.7,270.4) rotate(279.46)" x="104.00" y="3.9" text-anchor="middle">0.705</text><text transform="translate(273.7,270.4) rotate(275.68)" x="127.75" y="3.9" text-anchor="middle">1</text><text transform="translate(273.7,270.4) rotate(283.25)" x="123.35" y="3.9" text-anchor="middle">1</text><text transform="translate(273.7,270.4) rotate(285.77)" x="130.85" y="3.9" text-anchor="middle">1</text><text transform="translate(273.7,270.4) rotate(299.86)" x="91.50" y="3.9" text-anchor="middle">0.525</text><text transform="translate(273.7,270.4) rotate(293.34)" x="111.25" y="3.9" text-anchor="middle">1</text><text transform="translate(273.7,270.4) rotate(295.87)" x="130.75" y="3.9" text-anchor="middle">1</text><text transform="translate(273.7,270.4) rotate(306.38)" x="99.25" y="3.9" text-anchor="middle">0.995</text><text transform="translate(273.7,270.4) rotate(311.85)" x="107.25" y="3.9" text-anchor="middle">0.9999</text><text transform="translate(273.7,270.4) rotate(319.43)" x="115.00" y="3.9" text-anchor="middle">0.415</text><text transform="translate(273.7,270.4) rotate(312.69)" x="122.50" y="3.9" text-anchor="middle">1</text><text transform="translate(273.7,270.4) rotate(309.33)" x="128.50" y="3.9" text-anchor="middle">1</text><text transform="translate(273.7,270.4) rotate(316.06)" x="131.00" y="3.9" text-anchor="middle">1</text><text transform="translate(273.7,270.4) rotate(326.16)" x="123.25" y="3.9" text-anchor="middle">1</text><text transform="translate(273.7,270.4) rotate(322.79)" x="131.25" y="3.9" text-anchor="middle">1</text><text transform="translate(273.7,270.4) rotate(329.52)" x="130.75" y="3.9" text-anchor="middle">1</text><text transform="translate(273.7,270.4) rotate(337.51)" x="94.75" y="3.9" text-anchor="middle">1</text><text transform="translate(273.7,270.4) rotate(340.46)" x="122.50" y="3.9" text-anchor="middle">1</text><text transform="translate(273.7,270.4) rotate(342.98)" x="131.00" y="3.9" text-anchor="middle">1</text><text transform="translate(273.7,270.4) rotate(353.50)" x="99.25" y="3.9" text-anchor="middle">0.995</text><text transform="translate(273.7,270.4) rotate(349.71)" x="127.00" y="3.9" text-anchor="middle">1</text><text transform="translate(273.7,270.4) rotate(357.29)" x="122.75" y="3.9" text-anchor="middle">1</text><text transform="translate(273.7,270.4) rotate(359.81)" x="130.25" y="3.9" text-anchor="middle">1</text><text transform="translate(273.7,270.4) rotate(10.59)" x="83.25" y="3.9" text-anchor="middle">0.75</text><text transform="translate(273.7,270.4) rotate(16.32)" x="91.50" y="3.9" text-anchor="middle">0.98</text><text transform="translate(273.7,270.4) rotate(10.75)" x="111.50" y="3.9" text-anchor="middle">1</text><text transform="translate(273.7,270.4) rotate(13.27)" x="130.75" y="3.9" text-anchor="middle">1</text><text transform="translate(273.7,270.4) rotate(21.89)" x="99.00" y="3.9" text-anchor="middle">0.9325</text><text transform="translate(273.7,270.4) rotate(25.47)" x="106.00" y="3.9" text-anchor="middle">0.865</text><text transform="translate(273.7,270.4) rotate(29.26)" x="113.50" y="3.9" text-anchor="middle">0.99</text><text transform="translate(273.7,270.4) rotate(33.46)" x="121.00" y="3.9" text-anchor="middle">1</text><text transform="translate(273.7,270.4) rotate(30.10)" x="129.50" y="3.9" text-anchor="middle">1</text><text transform="translate(273.7,270.4) rotate(36.83)" x="129.50" y="3.9" text-anchor="middle">1</text><text transform="translate(273.7,270.4) rotate(46.93)" x="96.00" y="3.9" text-anchor="middle">1</text><text transform="translate(273.7,270.4) rotate(43.56)" x="131.50" y="3.9" text-anchor="middle">1</text><text transform="translate(273.7,270.4) rotate(50.29)" x="131.50" y="3.9" text-anchor="middle">1</text><text transform="translate(273.7,270.4) rotate(78.16)" x="87.50" y="3.9" text-anchor="middle">0.9325</text><text transform="translate(273.7,270.4) rotate(63.75)" x="103.25" y="3.9" text-anchor="middle">0.612</text><text transform="translate(273.7,270.4) rotate(68.80)" x="115.25" y="3.9" text-anchor="middle">0.9989</text><text transform="translate(273.7,270.4) rotate(63.75)" x="127.25" y="3.9" text-anchor="middle">1</text><text transform="translate(273.7,270.4) rotate(73.85)" x="123.75" y="3.9" text-anchor="middle">1</text><text transform="translate(273.7,270.4) rotate(70.48)" x="131.50" y="3.9" text-anchor="middle">1</text><text transform="translate(273.7,270.4) rotate(77.21)" x="131.50" y="3.9" text-anchor="middle">1</text><text transform="translate(273.7,270.4) rotate(272.57)" x="-99.75" y="3.9">0.999</text><text transform="translate(273.7,270.4) rotate(84.79)" x="115.75" y="3.9" text-anchor="middle">1</text><text transform="translate(273.7,270.4) rotate(87.31)" x="131.25" y="3.9" text-anchor="middle">1</text><text transform="translate(273.7,270.4) rotate(280.35)" x="-108.00" y="3.9">0.9941</text><text transform="translate(273.7,270.4) rotate(274.04)" x="-123.50" y="3.9">1</text><text transform="translate(273.7,270.4) rotate(286.66)" x="-115.50" y="3.9">0.954</text><text transform="translate(273.7,270.4) rotate(281.61)" x="-123.50" y="3.9">1</text><text transform="translate(273.7,270.4) rotate(284.14)" x="-131.50" y="3.9">1</text><text transform="translate(273.7,270.4) rotate(291.71)" x="-123.00" y="3.9">1</text><text transform="translate(273.7,270.4) rotate(294.23)" x="-131.25" y="3.9">1</text><text transform="translate(273.7,270.4) rotate(317.63)" x="-83.25" y="3.9">0.415</text><text transform="translate(273.7,270.4) rotate(301.80)" x="-107.00" y="3.9">1</text><text transform="translate(273.7,270.4) rotate(304.33)" x="-131.50" y="3.9">1</text><text transform="translate(273.7,270.4) rotate(333.46)" x="-91.25" y="3.9">0.75</text><text transform="translate(273.7,270.4) rotate(317.37)" x="-103.25" y="3.9">0.98</text><text transform="translate(273.7,270.4) rotate(311.06)" x="-122.50" y="3.9">1</text><text transform="translate(273.7,270.4) rotate(323.68)" x="-115.00" y="3.9">0.875</text><text transform="translate(273.7,270.4) rotate(318.63)" x="-123.10" y="3.9">1</text><text transform="translate(273.7,270.4) rotate(321.16)" x="-131.05" y="3.9">1</text><text transform="translate(273.7,270.4) rotate(328.73)" x="-123.25" y="3.9">1</text><text transform="translate(273.7,270.4) rotate(331.25)" x="-131.25" y="3.9">1</text><text transform="translate(273.7,270.4) rotate(349.55)" x="-98.75" y="3.9">0.9999</text><text transform="translate(273.7,270.4) rotate(338.82)" x="-114.00" y="3.9">0.995</text><text transform="translate(273.7,270.4) rotate(341.35)" x="-130.50" y="3.9">1</text><text transform="translate(273.7,270.4) rotate(360.28)" x="-106.85" y="3.9">0.705</text><text transform="translate(273.7,270.4) rotate(351.86)" x="-115.60" y="3.9">0.954</text><text transform="translate(273.7,270.4) rotate(348.08)" x="-126.75" y="3.9">1</text><text transform="translate(273.7,270.4) rotate(355.65)" x="-123.00" y="3.9">0.875</text><text transform="translate(273.7,270.4) rotate(358.17)" x="-130.75" y="3.9">1</text><text transform="translate(273.7,270.4) rotate(368.69)" x="-114.35" y="3.9">0.525</text><text transform="translate(273.7,270.4) rotate(364.91)" x="-126.00" y="3.9">1</text><text transform="translate(273.7,270.4) rotate(372.48)" x="-121.50" y="3.9">1</text><text transform="translate(273.7,270.4) rotate(375.00)" x="-130.25" y="3.9">1</text></g>
</svg></body></html>
